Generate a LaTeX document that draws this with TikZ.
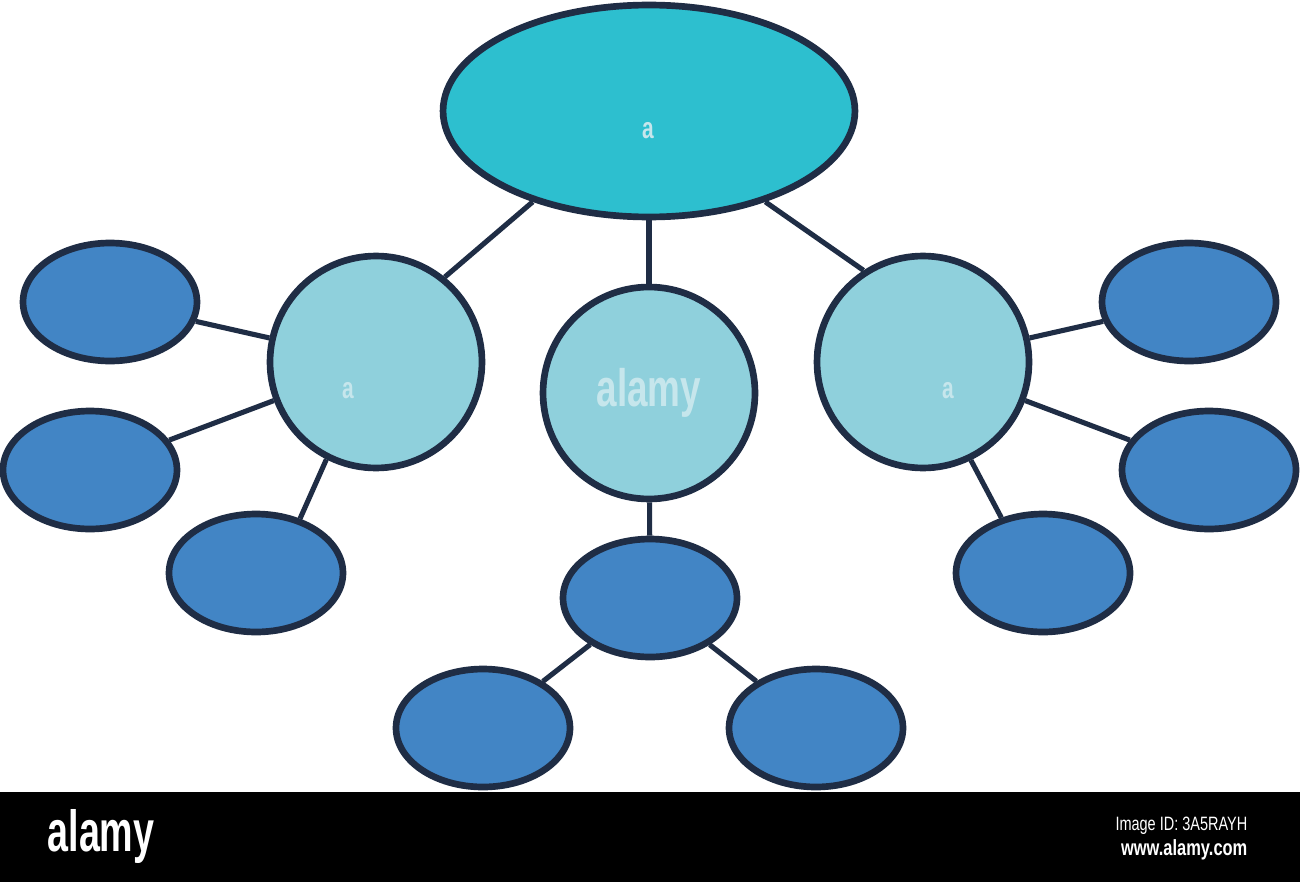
\documentclass[tikz,border=0pt]{standalone}
\usepackage{fontspec}
\setmainfont{Liberation Sans}
\usetikzlibrary{shapes.geometric}
\definecolor{teal}{HTML}{2DBFCF}
\definecolor{lightc}{HTML}{8FD0DC}
\definecolor{blueo}{HTML}{4285C5}
\definecolor{navy}{HTML}{1F2D45}
\definecolor{wm}{HTML}{C6E6EC}
\tikzset{
  base/.style={shape=ellipse, draw=navy, line width=3.8pt, inner sep=0pt},
  topnode/.style={base, fill=teal, minimum width=8.24cm, minimum height=4.24cm},
  midnode/.style={base, fill=lightc, minimum width=4.24cm, minimum height=4.24cm},
  leafnode/.style={base, fill=blueo, minimum width=3.48cm, minimum height=2.36cm},
  link/.style={draw=navy, line width=2.9pt},
  wmark/.style={text=wm, xscale=0.7},
}
\begin{document}
\begin{tikzpicture}[x=0.02cm,y=-0.02cm]
\useasboundingbox (0,0) rectangle (1300,882);
\fill[white] (0,0) rectangle (1300,882);
% nodes
\node[topnode] (top) at (649,111) {};
\node[midnode] (L) at (376,362) {};
\node[midnode] (C) at (649,393) {};
\node[midnode] (R) at (923,362) {};
\node[leafnode] (l1) at (110,302) {};
\node[leafnode] (l2) at (90,470) {};
\node[leafnode] (l3) at (256,573) {};
\node[leafnode] (r1) at (1189,302) {};
\node[leafnode] (r2) at (1209,470) {};
\node[leafnode] (r3) at (1043,573) {};
\node[leafnode] (c1) at (650,598) {};
\node[leafnode] (c2) at (483,728) {};
\node[leafnode] (c3) at (816,728) {};
% connectors
\draw[link] (top.218.4) -- (L.51.8);
\draw[link] (top) -- (C);
\draw[link] (top.322.6) -- (R.123.7);
\draw[link] (L) -- (l1);
\draw[link] (L) -- (l2);
\draw[link] (L.243.4) -- (l3.51.3);
\draw[link] (R) -- (r1);
\draw[link] (R) -- (r2);
\draw[link] (R.296.6) -- (r3.127.5);
\draw[link] (C) -- (c1);
\draw[link] (c1) -- (c2);
\draw[link] (c1) -- (c3);
% watermark texts
\node[wmark, font=\bfseries\fontsize{30}{30}\selectfont] (wmc) at (649,393) {alamy};
\node[wmark, font=\bfseries\fontsize{17}{17}\selectfont] (wm1) at (648,131) {a};
\node[wmark, font=\bfseries\fontsize{17}{17}\selectfont] (wm2) at (348,391) {a};
\node[wmark, font=\bfseries\fontsize{17}{17}\selectfont] (wm3) at (948,391) {a};
% bottom bar
\fill[black] (0,792) rectangle (1300,882);
\node[text=white, font=\bfseries\fontsize{33}{33}\selectfont, xscale=0.65] (logo) at (101,836) {alamy};
\node[text=white, font=\fontsize{11}{11}\selectfont, xscale=0.75, anchor=east] (imgid) at (1252,826) {Image ID: 3A5RAYH};
\node[text=white, font=\bfseries\fontsize{12.5}{12.5}\selectfont, xscale=0.75, anchor=east] (www) at (1252,850) {www.alamy.com};
\end{tikzpicture}
\end{document}
